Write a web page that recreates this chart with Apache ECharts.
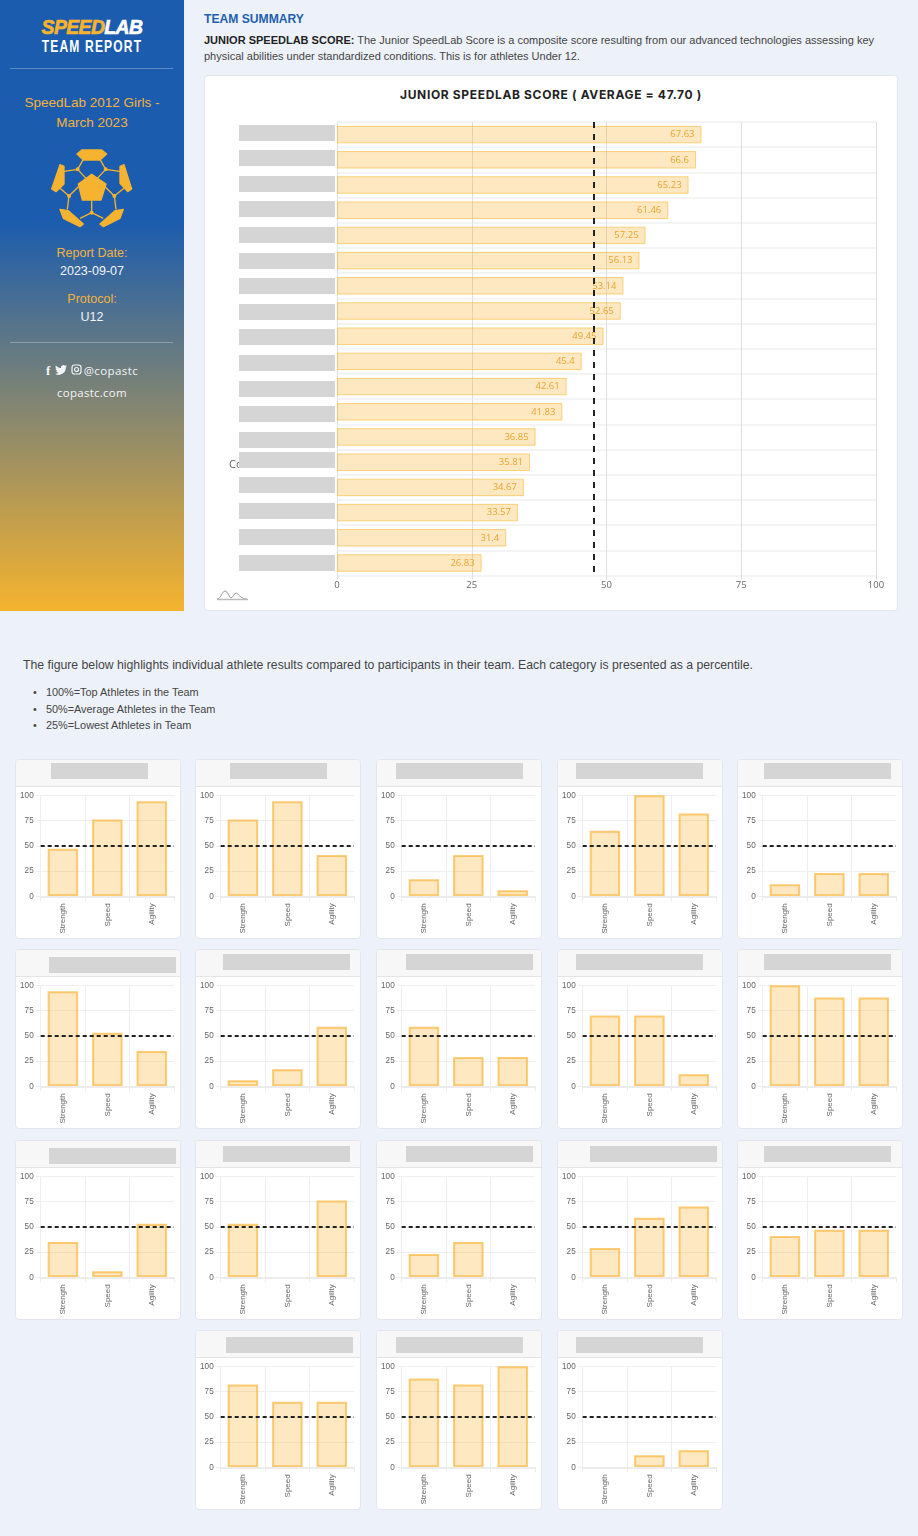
<!DOCTYPE html>
<html>
<head>
<meta charset="utf-8">
<title>SpeedLab Team Report</title>
<script src="https://cdn.jsdelivr.net/npm/echarts@6/dist/echarts.min.js"></script>
<style>
  html, body { margin: 0; padding: 0; }
  body { width: 918px; height: 1536px; position: relative; overflow: hidden; background: #edf2fa; font-family: "Liberation Sans", Arial, sans-serif; color: #444; }
  .abs { position: absolute; white-space: nowrap; }
  .squeeze { transform-origin: left top; }
  .side { position: absolute; left: 0; top: 0; width: 183.5px; height: 611px; background: linear-gradient(180deg, #1b5cae 0%, #1b5cae 36%, #f5b32f 100%); }
  .side .c { position: absolute; left: 0; width: 184px; text-align: center; white-space: nowrap; }
  .gold { color: #f3b23b; }
  .white { color: #f2f4f8; }
  .rule { position: absolute; left: 10px; width: 163px; height: 1px; background: rgba(255,255,255,.28); }
  .card { position: absolute; background: #fff; border: 1px solid #e3e6ec; border-radius: 4px; box-sizing: border-box; overflow: hidden; }
  .card .head { position: absolute; left: 0; top: 0; right: 0; height: 26px; background: #f7f7f7; border-bottom: 1px solid #e4e4e4; }
  .chart { position: absolute; left: 0; top: 0; }
  .redact { position: absolute; background: #d5d5d5; }
</style>
</head>
<body>
<div class="side">
  <div class="c" style="top:15px;font:italic bold 21px 'Liberation Sans';letter-spacing:-.6px;transform:scaleX(.92);-webkit-text-stroke:.7px;"><span style="color:#f5b32f">SPEED</span><span style="color:#fff">LAB</span></div>
  <div class="c" style="top:37px;font:bold 17px 'Liberation Sans';letter-spacing:1.6px;color:#fff;transform:scaleX(.71);">TEAM REPORT</div>
  <div class="rule" style="top:68px"></div>
  <div class="c gold" style="top:95px;font-size:13.5px;">SpeedLab 2012 Girls -</div>
  <div class="c gold" style="top:115px;font-size:13.5px;">March 2023</div>
  <svg class="abs" style="left:50px;top:148px" width="84" height="80" viewBox="150 444 252 240">
    <g stroke="#f5b32f" stroke-width="4" fill="none">
      <path d="M250 478L233 508L192 514M300 478L317 508L360 514M233 508L258 535M317 508L292 535M207 588L235 560M343 588L315 560M207 588L180 565M343 588L372 565M207 588L202 628M343 588L348 628M275 638L275 600M275 638L240 655M275 638L310 655"/>
    </g>
    <g fill="#f5b32f" stroke="#f5b32f" stroke-width="4" stroke-linejoin="round">
      <path d="M275 523L318 552L303 600L247 600L235 552Z"/>
      <path d="M231 462L245 450L305 450L320 462L300 480L250 480Z"/>
      <path d="M155 567L180 494L192 499L192 552L168 575Z"/>
      <path d="M395 567L372 494L360 499L360 550L383 575Z"/>
      <path d="M180 628L205 632L250 672L240 680L190 655Z"/>
      <path d="M370 628L345 632L300 672L310 680L360 655Z"/>
      <circle cx="233" cy="508" r="4"/><circle cx="317" cy="508" r="4"/><circle cx="207" cy="588" r="4"/><circle cx="343" cy="588" r="4"/><circle cx="275" cy="638" r="4"/>
    </g>
  </svg>
  <div class="c gold" style="top:245.500px;font-size:12.5px;">Report Date:</div>
  <div class="c white" style="top:263.500px;font-size:12.5px;">2023-09-07</div>
  <div class="c gold" style="top:291.500px;font-size:12.5px;">Protocol:</div>
  <div class="c white" style="top:309.500px;font-size:12.5px;">U12</div>
  <div class="rule" style="top:342px"></div>
  <div class="c white" style="top:362.500px;font:11.5px 'Open Sans';letter-spacing:.4px;"><span style="font:bold 13px 'Liberation Serif';margin-right:4px">f</span><svg width="12" height="10" viewBox="0 0 24 20" style="margin-right:4px"><path fill="#f2f4f8" d="M24 2.4c-.9.4-1.8.7-2.8.8 1-.6 1.8-1.6 2.2-2.7-1 .6-2 1-3.1 1.200A4.900 4.900 0 0 0 12 6.200C8 6 4.300 4 1.700.9c-1.300 2.200-.7 5.100 1.500 6.600-.8 0-1.600-.2-2.200-.6 0 2.300 1.600 4.400 3.900 4.900-.7.2-1.500.2-2.200.1.600 2 2.500 3.400 4.600 3.400A9.900 9.900 0 0 1 0 17.400 14 14 0 0 0 21.500 5c1-.7 1.800-1.600 2.500-2.600z"/></svg><svg width="11" height="11" viewBox="0 0 22 22" style="margin-right:2px"><rect x="2" y="2" width="18" height="18" rx="5" fill="none" stroke="#f2f4f8" stroke-width="2.4"/><circle cx="11" cy="11" r="4" fill="none" stroke="#f2f4f8" stroke-width="2.4"/></svg>@copastc</div>
  <div class="c white" style="top:385px;font:11.5px 'Open Sans';letter-spacing:.25px;">copastc.com</div>
</div>

<div class="abs squeeze" style="left:204px;top:12px;font:bold 12.5px 'Liberation Sans';color:#1f5fae;transform:scaleX(.97);">TEAM SUMMARY</div>
<div class="abs squeeze" style="left:204px;top:33px;font-size:11.6px;transform:scaleX(.949);"><b style="color:#222">JUNIOR SPEEDLAB SCORE:</b> The Junior SpeedLab Score is a composite score resulting from our advanced technologies assessing key</div>
<div class="abs squeeze" style="left:204px;top:49px;font-size:11.6px;transform:scaleX(.949);">physical abilities under standardized conditions. This is for athletes Under 12.</div>

<div class="card" style="left:204px;top:75px;width:694px;height:536px;"></div>
<div class="abs" style="left:204px;top:87px;width:694px;text-align:center;font:700 12px Inter;letter-spacing:.65px;color:#222;">JUNIOR SPEEDLAB SCORE ( AVERAGE = 47.70 )</div>
<div class="chart" id="scoreChart" style="left:204px;top:75px;width:694px;height:536px;"></div>
<div class="abs" style="left:229px;top:456px;font:11px 'Open Sans';color:#666;">Co</div>
<svg class="abs" style="left:216px;top:588px" width="33" height="13" viewBox="0 0 33 13"><path d="M1 11C5 11 6 3 9 3S13 10 15 10 18 5 20 5 24 11 31 11" fill="none" stroke="#999" stroke-width="1"/><path d="M1 11.500H32" stroke="#bbb" stroke-width="1.500"/></svg>

<div class="abs" style="left:23px;top:658px;font-size:12.25px;">The figure below highlights individual athlete results compared to participants in their team. Each category is presented as a percentile.</div>
<div class="abs" style="left:33px;top:684px;font-size:10.9px;line-height:16.500px;">
  <div>&bull;&nbsp;&nbsp;&nbsp;100%=Top Athletes in the Team</div>
  <div>&bull;&nbsp;&nbsp;&nbsp;50%=Average Athletes in the Team</div>
  <div>&bull;&nbsp;&nbsp;&nbsp;25%=Lowest Athletes in Team</div>
</div>

<script>
// team score, ordered as in the report
var scoreValues = [67.63, 66.6, 65.23, 61.46, 57.25, 56.13, 53.14, 52.65, 49.45, 45.4, 42.61, 41.83, 36.85, 35.81, 34.67, 33.57, 31.4, 26.83]
var scoreAverage = 47.7

// names are blanked out in the report
var athletes = ['', '', '', '', '', '', '', '', '', '', '', '', '', '', '', '', '', '']

var metrics = ['Strength', 'Speed', 'Agility']
var strength = [47, 76, 17, 65, 12, 94, 6, 59, 70, 100, 35, 53, 23, 29, 41, 82, 88, 0]
var speed = [76, 94, 41, 100, 23, 53, 17, 29, 70, 88, 6, 0, 35, 59, 47, 65, 82, 12]
var agility = [94, 41, 6, 82, 23, 35, 59, 29, 12, 88, 53, 76, 0, 70, 47, 65, 100, 17]
var teamLine = 50

// card placement
var cardLeft = [15, 195, 376, 557, 737, 15, 195, 376, 557, 737, 15, 195, 376, 557, 737, 195, 376, 557]
var cardTop = [759, 759, 759, 759, 759, 949, 949, 949, 949, 949, 1140, 1140, 1140, 1140, 1140, 1330, 1330, 1330]
var nameBoxX = [51, 230, 396, 576, 764, 49, 223, 406, 576, 764, 49, 223, 406, 590, 764, 226, 396, 576]
var nameBoxY = [763, 763, 763, 763, 763, 957, 954, 954, 954, 954, 1148, 1146, 1146, 1146, 1146, 1337, 1337, 1337]
var nameBoxW = [97, 97, 127, 127, 127, 127, 127, 127, 127, 127, 127, 127, 127, 127, 127, 127, 127, 127]
var scoreBoxY = [125, 150, 176, 201, 227, 253, 278, 304, 329, 355, 381, 406, 432, 452, 477, 503, 529, 555]

var FILL = 'rgba(248,180,50,0.3)'
var EDGE = 'rgba(250,180,40,0.55)'
var EDGE_SMALL = 'rgba(250,175,40,0.62)'

function addBox(x, y, w, h) {
  var box = document.createElement('div')
  box.className = 'redact'
  box.style.cssText = 'left:' + x + 'px;top:' + y + 'px;width:' + w + 'px;height:' + h + 'px;'
  document.body.appendChild(box)
}

var scoreChart = echarts.init(document.getElementById('scoreChart'), null, { renderer: 'canvas' })
scoreChart.setOption({
  animation: false,
  grid: { left: 133, right: 22, top: 47, bottom: 35.4 },
  xAxis: {
    type: 'value', min: 0, max: 100, interval: 25,
    axisLine: { show: false },
    axisTick: { show: true, length: 4, lineStyle: { color: '#ddd' } },
    axisLabel: {
      margin: 5, fontFamily: 'Open Sans', fontSize: 9.5,
      color: function (v) { return v === 100 ? '#333' : '#666' }
    },
    splitLine: { show: true, lineStyle: { color: '#dfdfdf', width: 1 } }
  },
  yAxis: {
    type: 'category', inverse: true, data: athletes,
    axisLine: { show: true, lineStyle: { color: '#e2e2e2', width: 1 } },
    axisTick: { show: false },
    axisLabel: { show: false },
    splitLine: { show: true, lineStyle: { color: '#f0f0f0', width: 1.5 } }
  },
  series: [{
    type: 'bar', data: scoreValues, barWidth: 17.5,
    itemStyle: { color: FILL, borderColor: EDGE, borderWidth: 1 },
    label: {
      show: true, position: 'insideRight', distance: 7,
      fontFamily: 'Open Sans', fontSize: 9.5, color: '#e9a42e'
    },
    markLine: {
      silent: true, symbol: 'none', animation: false,
      label: { show: false },
      lineStyle: { color: '#222', type: [6, 6], width: 2 },
      data: [{ xAxis: scoreAverage }]
    }
  }]
})

scoreBoxY.forEach(function (y) { addBox(239, y, 96, 16) })

cardLeft.forEach(function (x, i) {
  var card = document.createElement('div')
  card.className = 'card'
  card.style.cssText = 'left:' + x + 'px;top:' + cardTop[i] + 'px;width:166px;height:180px;'
  card.innerHTML = '<div class="head"></div>'
  document.body.appendChild(card)

  var holder = document.createElement('div')
  holder.className = 'chart'
  holder.style.cssText = 'left:' + x + 'px;top:' + cardTop[i] + 'px;width:166px;height:180px;'
  document.body.appendChild(holder)

  var values = [strength[i], speed[i], agility[i]].map(function (v) {
    return v === 0 ? { value: 0, itemStyle: { borderWidth: 0 } } : v
  })
  echarts.init(holder).setOption({
    animation: false,
    grid: { left: 25.7, right: 7, top: 36.3, height: 101 },
    xAxis: {
      type: 'category', data: metrics, z: 5,
      axisLine: { show: true, lineStyle: { color: '#ececec', width: 2 } },
      axisTick: { show: true, length: 5, lineStyle: { color: '#ececec' } },
      axisLabel: { rotate: 90, margin: 7, fontSize: 8, fontFamily: 'Liberation Sans', color: '#666', interval: 0 },
      splitLine: { show: true, showMaxLine: false, lineStyle: { color: '#eeeeee' } }
    },
    yAxis: {
      type: 'value', min: 0, max: 100, interval: 25,
      axisLine: { show: false },
      axisTick: { show: true, length: 5, lineStyle: { color: '#eeeeee' } },
      axisLabel: { margin: 7, fontSize: 8.2, fontFamily: 'Liberation Sans', color: '#666' },
      splitLine: { show: true, lineStyle: { color: '#efefef' } }
    },
    series: [{
      type: 'bar', data: values, barWidth: 30.5,
      itemStyle: { color: FILL, borderColor: EDGE_SMALL, borderWidth: 2 },
      markLine: {
        silent: true, symbol: 'none', animation: false,
        label: { show: false },
        lineStyle: { color: '#222', type: [4, 3], width: 2 },
        data: [{ yAxis: teamLine }]
      }
    }]
  })
  addBox(nameBoxX[i], nameBoxY[i], nameBoxW[i], 16)
})
</script>
</body>
</html>
